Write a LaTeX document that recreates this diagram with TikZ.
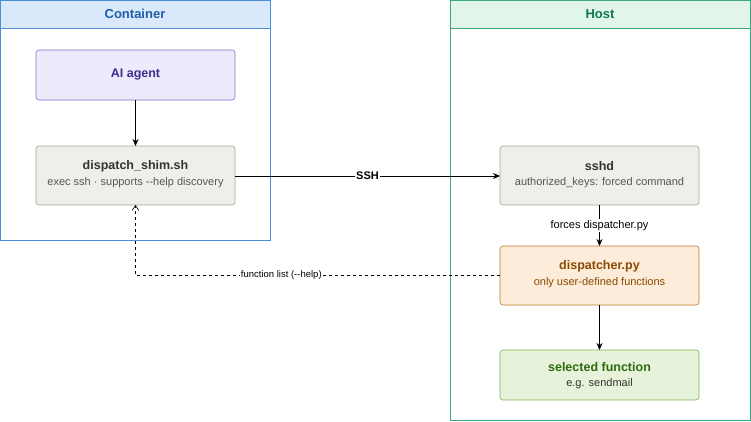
\documentclass[tikz,border=0pt]{standalone}
\usepackage{fontspec}
\setmainfont{Liberation Sans}
\usetikzlibrary{arrows.meta}
\definecolor{cbd}{HTML}{4A90D9}\definecolor{cbg}{HTML}{DAE8FC}\definecolor{ctx}{HTML}{1F5FA8}
\definecolor{hbd}{HTML}{3AAA7A}\definecolor{hbg}{HTML}{E1F5EA}\definecolor{htx}{HTML}{0E7A4E}
\definecolor{abg}{HTML}{ECEBFC}\definecolor{abd}{HTML}{8070D0}\definecolor{atx}{HTML}{3D2E8C}
\definecolor{gbg}{HTML}{F0EEE9}\definecolor{gbd}{HTML}{A8A49A}\definecolor{gtx}{HTML}{333333}\definecolor{gsub}{HTML}{555555}
\definecolor{obg}{HTML}{FCECD9}\definecolor{obd}{HTML}{C07A2A}\definecolor{otx}{HTML}{8A4A00}
\definecolor{sbg}{HTML}{E6F2DA}\definecolor{sbd}{HTML}{7AB34F}\definecolor{stx}{HTML}{2D6B10}
\begin{document}
\begin{tikzpicture}[x=1pt,y=-1pt,
 box/.style={rounded corners=3pt,line width=0.6pt},
 ttl/.style={font=\fontsize{12.5}{14}\selectfont\bfseries},
 sub/.style={font=\fontsize{11}{13}\selectfont},
 arr/.style={-{Stealth[length=7pt,width=6pt]},line width=0.8pt}]
\useasboundingbox (0,0) rectangle (751,421);
% Container
\fill[white] (0.5,0.5) rectangle (270,240);
\fill[cbg] (1,1) rectangle (269.5,28);
\draw[cbd,line width=0.7pt] (0.5,28) -- (270,28);
\draw[cbd,line width=0.7pt] (0.5,0.5) rectangle (270,240);
\node[font=\fontsize{13}{15}\selectfont\bfseries,text=ctx] (ct) at (135,14) {Container};
% Host
\fill[hbg] (450,0.5) rectangle (750,28);
\draw[hbd,line width=0.7pt] (450,28) -- (750,28);
\draw[hbd,line width=0.7pt] (450,0.5) rectangle (750,420);
\node[font=\fontsize{13}{15}\selectfont\bfseries,text=htx] (ht) at (600,14) {Host};
% boxes
\draw[box,abd,fill=abg] (36,50) rectangle (235,100);
\node[ttl,text=atx] (ai) at (135.5,75) {AI agent};
\coordinate (aib) at (135.5,100);
\draw[box,gbd,fill=gbg] (36,146) rectangle (235,205);
\node[ttl,text=gtx] (sh1) at (135.5,166) {dispatch\_shim.sh};
\node[sub,text=gsub] (sh2) at (135.5,183) {exec ssh · supports {-}{-}help discovery};
\coordinate (sht) at (135.5,146);\coordinate (shr) at (235,176);\coordinate (shb) at (135.5,205);
\draw[box,gbd,fill=gbg] (500,146) rectangle (699,205);
\node[ttl,text=gtx] (ss1) at (599.5,166) {sshd};
\node[sub,text=gsub] (ss2) at (599.5,183) {authorized\_keys: forced command};
\coordinate (ssl) at (500,176);\coordinate (ssb) at (599.5,205);
\draw[box,obd,fill=obg] (500,246) rectangle (699,305);
\node[ttl,text=otx] (d1) at (599.5,266) {dispatcher.py};
\node[sub,text=otx] (d2) at (599.5,283) {only user-defined functions};
\coordinate (dt) at (599.5,246);\coordinate (dl) at (500,275);\coordinate (db) at (599.5,305);
\draw[box,sbd,fill=sbg] (500,350) rectangle (699,400);
\node[ttl,text=stx] (sf1) at (599.5,367) {selected function};
\node[sub,text=gtx] (sf2) at (599.5,384) {e.g. sendmail};
\coordinate (sft) at (599.5,350);
% arrows
\draw[arr] (aib) -- (sht);
\draw[arr] (shr) -- node[fill=white,font=\fontsize{11}{13}\selectfont\bfseries,inner sep=1pt]{SSH} (ssl);
\draw[arr] (ssb) -- node[fill=white,sub,inner sep=1pt]{forces dispatcher.py} (dt);
\draw[arr] (db) -- (sft);
\coordinate (corner) at (135.5,275);
\draw[dashed,line width=0.6pt,-{Straight Barb[length=5pt,width=7pt]}] (dl) -- node[fill=white,font=\fontsize{9.5}{11}\selectfont,inner sep=1pt,pos=0.6]{function list ({-}{-}help)} (corner) -- (shb);
\end{tikzpicture}
\end{document}
